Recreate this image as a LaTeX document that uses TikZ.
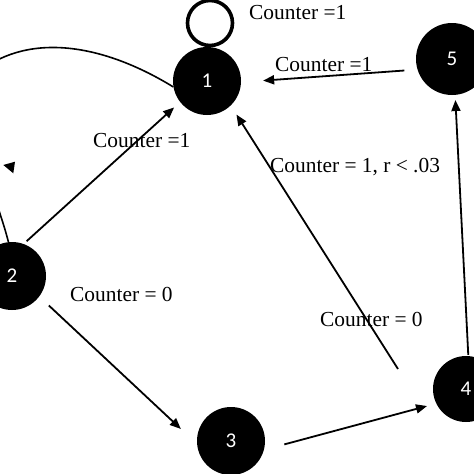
\documentclass[tikz,border=0pt]{standalone}
\usepackage{fontspec}
\setmainfont{Liberation Serif}
\newfontfamily\numfont{Carlito}
\usetikzlibrary{arrows.meta}
\begin{document}
\begin{tikzpicture}[x=1pt,y=-1pt,
  state/.style={circle,fill=black,inner sep=0pt,minimum size=68pt,text=white,font=\numfont\fontsize{21}{23}\selectfont},
  loopring/.style={circle,draw=black,line width=3.6pt,inner sep=0pt,minimum size=45pt},
  lbl/.style={anchor=base west,inner sep=0pt,font=\fontsize{21.4}{24}\selectfont},
  arr/.style={line width=1.8pt,-{Triangle[length=11pt,width=9pt]}},
  plain/.style={line width=1.6pt}]
\useasboundingbox (0,0) rectangle (474,474);
\clip (0,0) rectangle (474,474);
\fill[white] (0,0) rectangle (474,474);

\node[state] (n1) at (207,81) {1};
\node[state] (n2) at (12,276) {2};
\node[state] (n3) at (231,441) {3};
\node[state,minimum size=66pt] (n4) at (466,389) {4};
\node[state,minimum size=72pt] (n5) at (452,59) {5};
\node[loopring] (lp) at (210,23) {};

\coordinate (free) at (398,369);

% connectors
\draw[arr,shorten <=4pt,shorten >=8pt] (n2.70) -- (n1.218);
\draw[arr,shorten <=13pt,shorten >=22pt] (n5.197) -- (n1.-2);
\draw[arr,shorten <=13pt,shorten >=22pt] (n2.-37) -- (n3.185);
\draw[arr,shorten <=21pt,shorten >=9.5pt] (n3.-15) -- (n4.206.6);
\draw[arr,shorten <=1pt,shorten >=5pt] (n4.86.6) -- (n5.-85.8);
\draw[arr,shorten >=10.6pt] (free) -- (n1.-46);
\draw[plain] (n1.190) .. controls (100,42) and (25,32) .. (-25,75)
  .. controls (-50,97) and (-6,185) .. (n2.96);
\fill (3.3,165) -- (15,161.7) -- (13.3,173.3) -- cycle;

% labels
\node[lbl] (l1) at (249,19) {Counter =1};
\node[lbl] (l2) at (275,71) {Counter =1};
\node[lbl] (l3) at (93,147) {Counter =1};
\node[lbl] (l4) at (270,172) {Counter = 1, r < .03};
\node[lbl] (l5) at (320,326) {Counter = 0};
\node[lbl] (l6) at (70,301) {Counter = 0};
\end{tikzpicture}
\end{document}
